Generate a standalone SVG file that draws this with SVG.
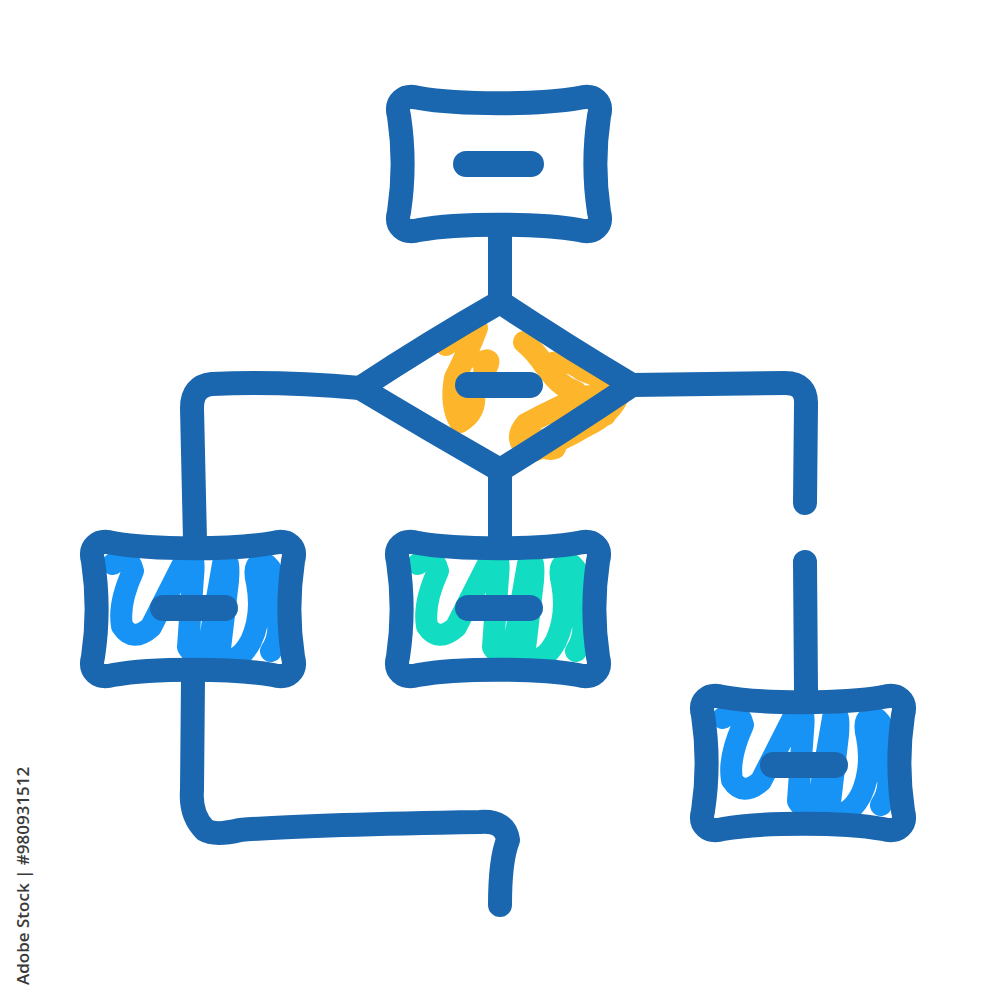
<svg xmlns="http://www.w3.org/2000/svg" width="1000" height="1000" viewBox="0 0 1000 1000">
<style>
.ln{fill:none;stroke:#1a67b0;stroke-width:24;stroke-linecap:round;stroke-linejoin:round}
.dash{fill:none;stroke:#1a67b0;stroke-width:26;stroke-linecap:round}
.sc{fill:none;stroke-width:22;stroke-linecap:round;stroke-linejoin:round}
.blue{stroke:#1793f5}
.teal{stroke:#12dcc2}
.orange{stroke:#fdb52b}
.id{font-family:"Open Sans","DejaVu Sans",sans-serif;font-size:17px;font-weight:600;fill:#3a3a3a}
</style>
<defs>
<path id="box" d="M-80,-66 C-40,-59 40,-59 80,-66 C95,-70 104,-62 100,-48 C95,-15 95,15 100,48 C104,62 95,70 80,66 C40,59 -40,59 -80,66 C-95,70 -104,62 -100,48 C-95,15 -95,-15 -100,-48 C-104,-62 -95,-70 -80,-66 Z"/>
<path id="scrib" d="M-80,-45 Q-65,-58 -60,-38 Q-75,-5 -71,17 Q-60,34 -42,18 L-8,-49 Q3,-60 0,-32 L-5,38 Q3,52 17,30 L30,-45 Q37,-55 35,-28 L26,48 Q44,58 58,32 Q70,6 64,-26 Q58,-50 74,-44 Q87,-32 76,-8 Q94,18 78,42"/>
</defs>
<g id="connectors">
<path class="ln" d="M500,232 L500,300"/>
<path class="ln" d="M500,470 L500,540"/>
<path class="ln" d="M360,388 Q280,381 212,384 Q192,386 192,408 L195,540"/>
<path class="ln" d="M632,385 L785,383 Q807,383 806,405 L805,503"/>
<path class="ln" d="M805,562 L806,690"/>
<path class="ln" d="M193,680 L192,790 Q190,815 205,830 Q215,836 240,830 Q300,825 480,822 Q505,820 508,840 Q500,860 500,905"/>
</g>
<g id="node-top">
<use href="#box" class="ln" transform="translate(499,164)"/>
<path class="dash" d="M466,164 L531,164"/>
</g>
<g id="node-decision">
<path class="sc orange" d="M446,345 Q468,330 477,328 Q468,352 455,378 Q450,405 460,422 Q476,412 474,395 M484,372 Q494,356 482,362"/>
<path class="sc orange" d="M524,342 Q536,352 545,366 Q566,356 582,370 Q606,378 620,392 Q612,414 586,426 Q560,442 530,452 Q512,440 526,424 Q556,408 580,398 Q602,392 612,406 M546,366 Q558,386 576,392 M560,420 Q590,410 605,415 M540,440 Q545,452 555,448"/>
<path class="ln" d="M500,302 Q430,342 360,388 Q430,430 500,470 Q565,430 632,385 Q565,345 500,302 Z"/>
<path class="dash" d="M468,385 L530,385"/>
</g>
<g id="node-left">
<use href="#scrib" class="sc blue" transform="translate(193,609)"/>
<use href="#box" class="ln" transform="translate(193,609)"/>
<path class="dash" d="M163,608 L225,608"/>
</g>
<g id="node-middle">
<use href="#scrib" class="sc teal" transform="translate(498,609)"/>
<use href="#box" class="ln" transform="translate(498,609)"/>
<path class="dash" d="M468,608 L530,608"/>
</g>
<g id="node-right">
<use href="#scrib" class="sc blue" transform="translate(803,763)"/>
<use href="#box" class="ln" transform="translate(803,763)"/>
<path class="dash" d="M773,765 L835,765"/>
</g>
<text class="id" transform="translate(29,985) rotate(-90)">Adobe Stock | #980931512</text>
</svg>
